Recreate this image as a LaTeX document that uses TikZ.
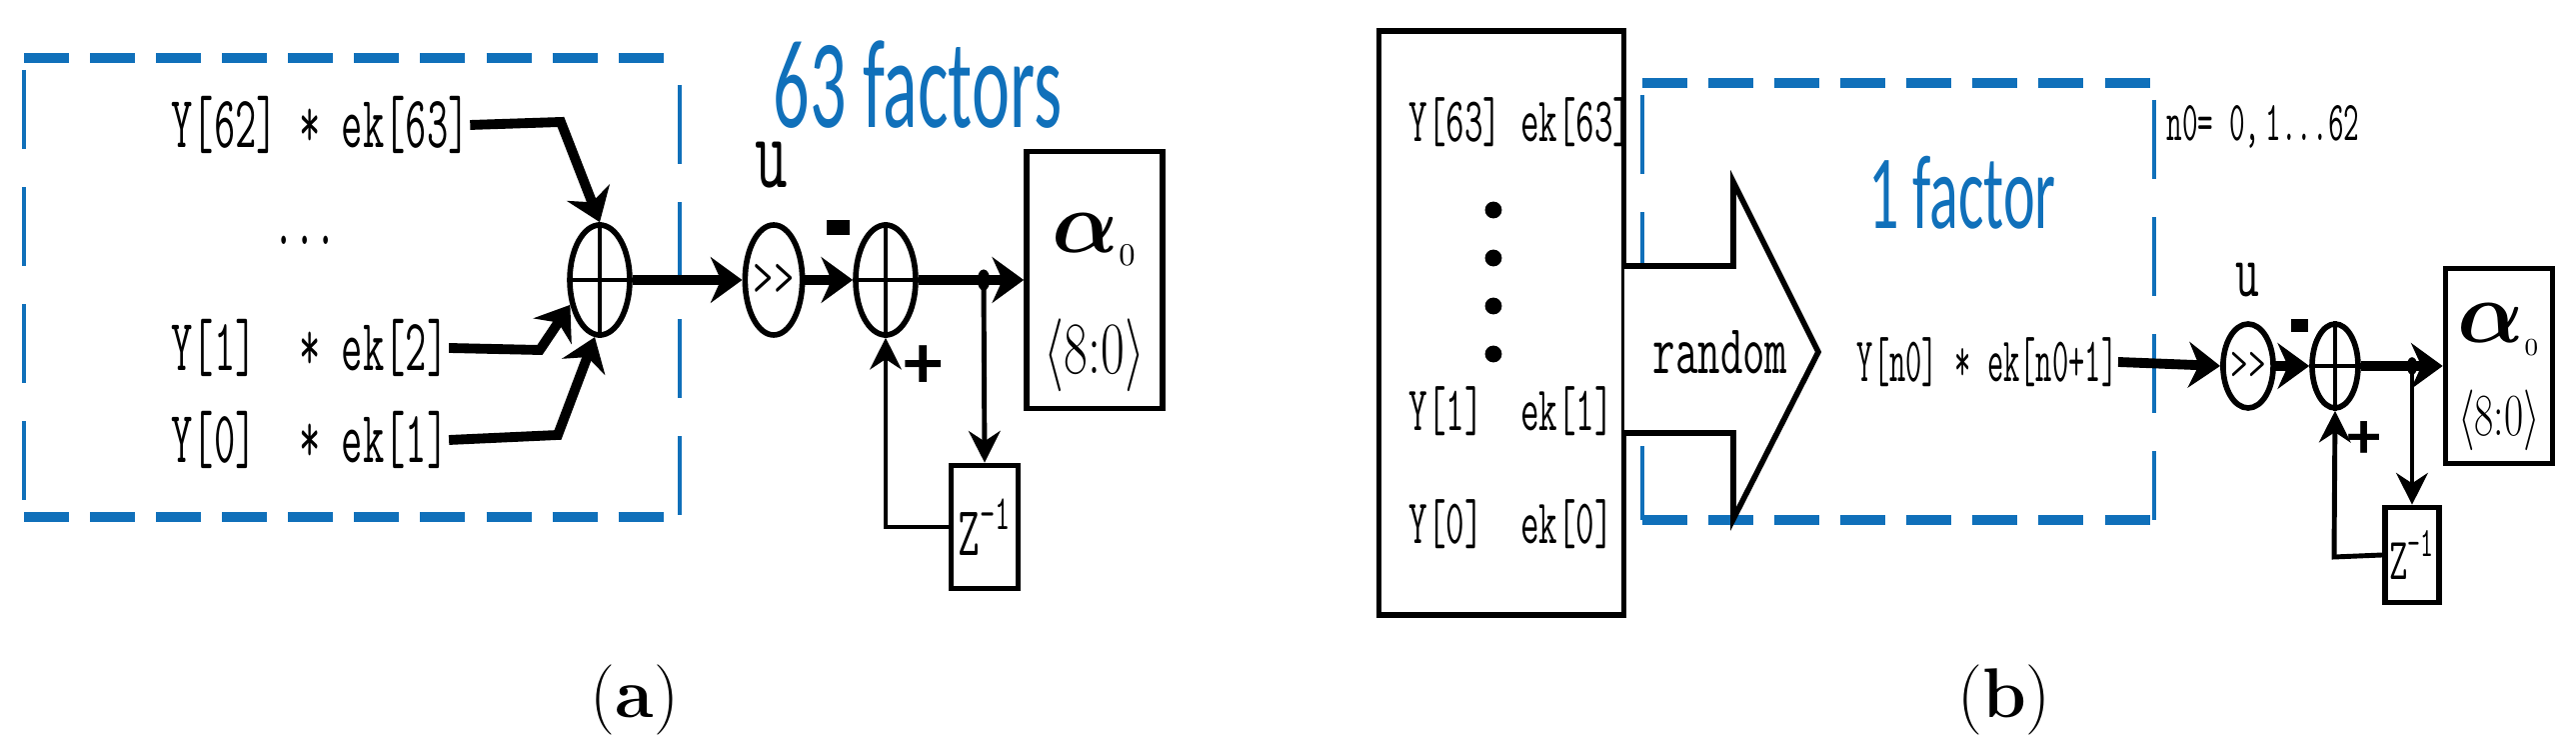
\documentclass[tikz,border=0pt]{standalone}
\usepackage{fontspec}
\usepackage{amsmath,bm}
\usetikzlibrary{shapes.geometric,arrows.meta}
\newfontfamily\calibri{Carlito}
\definecolor{boxblue}{RGB}{16,112,186}
\newcommand{\ctt}[3]{\scalebox{#2}[1]{\fontsize{#1}{#1}\selectfont\ttfamily #3}}
\newcommand{\csans}[3]{\scalebox{#2}[1]{\fontsize{#1}{#1}\selectfont\calibri #3}}

\tikzset{
    sig/.style={line width=2.8pt, -{Stealth[length=9pt,width=13pt]}},
    fb/.style={line width=1.4pt, -{Stealth[length=9pt,width=9pt]}},
    wire/.style={line width=2.8pt},
    adder/.style={ellipse, draw, line width=1.6pt, minimum width=6mm, minimum height=11mm, inner sep=0pt},
    hdash/.style={boxblue, line width=2.8pt, dash pattern=on 12.8pt off 6pt},
    vdash/.style={boxblue, line width=1.4pt, dash pattern=on 22.5pt off 10.8pt},
    txt/.style={inner sep=0pt, anchor=west},
    reg/.style={draw, line width=1.6pt, inner sep=0pt},
    sgn/.style={inner sep=0pt, font=\calibri\bfseries\fontsize{22}{22}\selectfont},
    minus/.style={fill, inner sep=0pt}
}

\begin{document}
\begin{tikzpicture}[x=0.1mm, y=-0.1mm]
    \useasboundingbox (0,0) rectangle (2577,751);

    % (a) 63 factors
    \draw[hdash] (24,58) -- (680,58);
    \draw[hdash] (24,517) -- (680,517);
    \draw[vdash] (24,70) -- (24,517);
    \draw[vdash] (680,85) -- (680,517);
    \node[boxblue, inner sep=0pt] (fa) at (918,85) {\csans{36}{0.57}{63 factors}};

    \node[txt] (y62) at (171,125) {\ctt{21}{0.56}{Y[62] * ek[63]}};
    \node[inner sep=0pt] (dotsa) at (305,240) {\ctt{21}{0.56}{...}};
    \node[txt] (y1) at (171,348) {\ctt{21}{0.56}{Y[1]\ \ * ek[2]}};
    \node[txt] (y0) at (171,440) {\ctt{21}{0.56}{Y[0]\ \ * ek[1]}};

    \node[adder] (add1) at (600,280) {};
    \draw[line width=1.4pt] (add1.north) -- (add1.south) (add1.west) -- (add1.east);
    \coordinate (b62) at (561,122);
    \coordinate (b1) at (540,350);
    \coordinate (b0) at (558,435);
    \draw[sig] (y62.east) -- (b62) -- (add1.north);
    \draw[sig] (y1.east) -- (b1) -- (add1.220);
    \draw[sig] (y0.east) -- (b0) -- (add1.265);

    \node[adder, minimum width=5.7mm] (sh1) at (774,280) {\ctt{16}{0.7}{>>}};
    \node[inner sep=0pt] (u1) at (772,165) {\ctt{30}{0.6}{u}};
    \node[adder] (add2) at (886,280) {};
    \draw[line width=1.4pt] (add2.north) -- (add2.south) (add2.west) -- (add2.east);
    \node[minus, minimum width=2.3mm, minimum height=1.5mm] (m1) at (838,228) {};
    \node[sgn] (p1) at (924,367) {+};

    \node[reg, minimum width=13.6mm, minimum height=25.7mm] (al1) at (1095,280) {};
    \node[inner sep=0pt] (al1t) at (1095,240) {\fontsize{28}{28}\selectfont$\bm{\alpha}_{\text{\fontsize{9}{9}\selectfont 0}}$};
    \node[inner sep=0pt] (al1r) at (1095,355) {\scalebox{0.7}[1]{\fontsize{21}{21}\selectfont$\langle$8:0$\rangle$}};

    \node[reg, minimum width=6.7mm, minimum height=12.3mm] (z1) at (985,527) {\ctt{20}{0.6}{Z$^{\text{-1}}$}};
    \coordinate (d1) at (984,280);
    \coordinate (zb1) at (886,527);
    \fill (d1) ellipse (1.8pt and 3pt);

    \draw[sig] (add1.east) -- (sh1.west);
    \draw[sig] (sh1.east) -- (add2.west);
    \draw[wire] (add2.east) -- (d1);
    \draw[sig] (d1) -- (al1.west);
    \draw[fb] (d1) -- (z1.north);
    \draw[fb] (z1.west) -- (zb1) -- (add2.south);

    \node[font=\fontsize{20}{20}\selectfont] (capa) at (635,700) {(\textbf{a})};

    % (b) 1 factor
    \draw[hdash] (1643,83) -- (2155,83);
    \draw[hdash] (1643,520) -- (2155,520);
    \draw[vdash] (1643,95) -- (1643,520);
    \draw[vdash] (2155,100) -- (2155,520);
    \node[boxblue, inner sep=0pt] (fb) at (1963,193) {\csans{30}{0.57}{1 factor}};
    \node[txt] (n0) at (2167,127) {\ctt{16}{0.54}{n0= 0,\,1...62}};

    \node[reg, minimum width=24.5mm, minimum height=58.4mm] (mem) at (1502,323) {};
    \node[txt] (m63) at (1409,122) {\ctt{18}{0.57}{Y[63] ek[63]}};
    \node[txt] (m1r) at (1409,411) {\ctt{18}{0.57}{Y[1]\ \ ek[1]}};
    \node[txt] (m0r) at (1409,524) {\ctt{18}{0.57}{Y[0]\ \ ek[0]}};
    \foreach \yy in {210,258,306,354} \fill (1494,\yy) circle (2.4pt);

    \draw[line width=1.6pt, fill=white] (1625,266) -- (1734,266) -- (1734,182) -- (1819,352)
        -- (1734,519) -- (1734,433) -- (1625,433);
    \node[inner sep=0pt] (rnd) at (1721,352) {\ctt{20}{0.62}{random}};

    \node[txt] (yn) at (1857,362) {\ctt{18}{0.5}{Y[n0] * ek[n0+1]}};
    \node[adder, minimum width=4.6mm, minimum height=8.4mm] (sh2) at (2249,366) {\ctt{14}{0.7}{>>}};
    \node[inner sep=0pt] (u2) at (2248,280) {\ctt{22}{0.6}{u}};
    \node[adder, minimum width=4.6mm, minimum height=8.4mm] (add3) at (2336,366) {};
    \draw[line width=1.4pt] (add3.north) -- (add3.south) (add3.west) -- (add3.east);
    \node[minus, minimum width=1.7mm, minimum height=1.3mm] (m2) at (2300,326) {};
    \node[sgn, font=\calibri\bfseries\fontsize{19}{19}\selectfont] (p2) at (2365,440) {+};

    \node[reg, minimum width=10.7mm, minimum height=19.5mm] (al2) at (2500,366) {};
    \node[inner sep=0pt] (al2t) at (2500,330) {\fontsize{23}{23}\selectfont$\bm{\alpha}_{\text{\fontsize{7}{7}\selectfont 0}}$};
    \node[inner sep=0pt] (al2r) at (2500,420) {\scalebox{0.7}[1]{\fontsize{17}{17}\selectfont$\langle$8:0$\rangle$}};

    \node[reg, minimum width=5.4mm, minimum height=9.5mm] (z2) at (2413,555) {\ctt{17}{0.6}{Z$^{\text{-1}}$}};
    \coordinate (d2) at (2413,366);
    \coordinate (zb2) at (2335,557);
    \fill (d2) ellipse (1.5pt and 2.5pt);

    \draw[sig] (yn.east) -- (sh2.west);
    \draw[sig] (sh2.east) -- (add3.west);
    \draw[wire] (add3.east) -- (d2);
    \draw[sig] (d2) -- (al2.west);
    \draw[fb] (d2) -- (z2.north);
    \draw[fb] (z2.west) -- (zb2) -- (add3.south);

    \node[font=\fontsize{20}{20}\selectfont] (capb) at (2005,700) {(\textbf{b})};
\end{tikzpicture}
\end{document}
